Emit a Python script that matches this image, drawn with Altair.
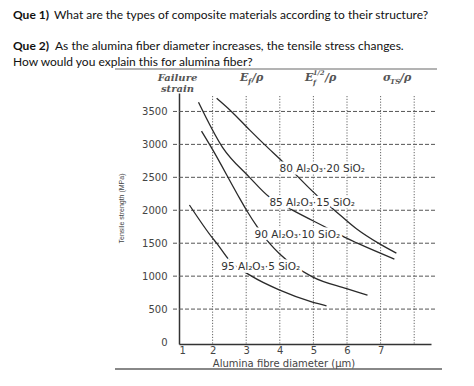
import altair as alt
import pandas as pd

# ---- values ----
diam_80 = [2.12, 2.56, 3.10, 3.54, 4.08, 4.38, 5.18, 5.54, 6.28, 6.97, 7.47]
ts_80 = [3700, 3500, 3220, 3000, 2740, 2590, 2190, 2040, 1720, 1490, 1350]
diam_85 = [1.58, 2.29, 3.10, 3.69, 4.35, 5.54, 5.99, 6.31, 7.41]
ts_85 = [3640, 2960, 2500, 2200, 2010, 1697, 1576, 1500, 1258]
diam_90 = [1.67, 2.00, 2.74, 3.01, 3.34, 3.69, 3.99, 4.97, 5.99, 6.61]
ts_90 = [3200, 2920, 2240, 2000, 1740, 1500, 1340, 990, 810, 710]
diam_95 = [1.31, 2.00, 2.12, 2.50, 3.16, 4.00, 4.97, 5.39]
ts_95 = [2080, 1576, 1500, 1240, 1000, 788, 606, 550]

compositions = ["80 Al₂O₃·20 SiO₂", "85 Al₂O₃·15 SiO₂", "90 Al₂O₃·10 SiO₂", "95 Al₂O₃·5 SiO₂"]
label_diam = [3.99, 3.69, 3.25, 2.26]
label_ts = [2621, 2114, 1621, 1136]

x_ticks = [1, 2, 3, 4, 5, 6, 7]
y_ticks = [0, 500, 1000, 1500, 2000, 2500, 3000, 3500]
y_grid = [500, 1000, 1500, 2000, 2500, 3000, 3500]
x_grid = [2, 3, 4, 5, 6, 7, 8]

# ---- tables ----
rows = []
for name, xs_, ys_ in zip(compositions, [diam_80, diam_85, diam_90, diam_95], [ts_80, ts_85, ts_90, ts_95]):
    for i, (a, b) in enumerate(zip(xs_, ys_)):
        rows.append({"comp": name, "d": a, "s": b, "i": i})
curves = pd.DataFrame(rows)
labels = pd.DataFrame({"comp": compositions, "d": label_diam, "s": label_ts})

W, H = 252, 251
xs = alt.Scale(domain=[1, 8.5], nice=False, zero=False)
ys = alt.Scale(domain=[-30, 3780], nice=False, zero=False)

x_axis = alt.Axis(values=x_ticks, title=None, grid=False, ticks=False,
                  labelPadding=1, domainColor="#333", domainWidth=1.5,
                  labelOverlap=False, format="d")
y_axis = alt.Axis(values=y_ticks, grid=False, ticks=False,
                  labelPadding=12, domainColor="#333", domainWidth=1.5,
                  labelOverlap=False, format="d",
                  title="Tensile strength (MPa)", titleFont="Liberation Sans",
                  titleFontSize=7, titleFontWeight="normal", titleColor="#444",
                  titlePadding=17, titleY=115)


def X(field):
    return alt.X(field, type="quantitative", scale=xs, axis=x_axis)


def Y(field):
    return alt.Y(field, type="quantitative", scale=ys, axis=y_axis)


lines = alt.Chart(curves).mark_line(
    color="#2a2a2a", strokeWidth=1.3, interpolate="monotone"
).encode(x=X("d"), y=Y("s"), detail="comp:N", order="i:Q")

hgrid = alt.Chart(pd.DataFrame({"s": y_grid})).mark_rule(
    color="#555", strokeWidth=1, strokeDash=[4, 2]
).encode(y=Y("s"), x=alt.value(-6), x2=alt.value(256))

vgrid = alt.Chart(pd.DataFrame({"d": x_grid})).mark_rule(
    color="#666", strokeWidth=1, strokeDash=[1.2, 1.6]
).encode(x=X("d"), y=alt.value(3), y2=alt.value(H))

halo = alt.Chart(labels).mark_text(
    align="left", baseline="middle", font="DejaVu Sans", fontSize=10.5,
    stroke="white", strokeWidth=5, fill="white"
).encode(x=X("d"), y=Y("s"), text="comp:N")

ltext = alt.Chart(labels).mark_text(
    align="left", baseline="middle", font="DejaVu Sans", fontSize=10.5, color="#333"
).encode(x=X("d"), y=Y("s"), text="comp:N")


def note(text, x, y, **kw):
    base = dict(align="left", baseline="middle")
    base.update(kw)
    return alt.Chart(pd.DataFrame({"t": [text]})).mark_text(**base).encode(
        x=alt.value(x), y=alt.value(y), text="t:N"
    )


qfont = "Lato"
qs = 12
hdr = dict(font="DejaVu Serif", fontStyle="italic", fontWeight="bold", color="#555")
notes = [
    note("Que 1)", -166, -78, font=qfont, fontSize=qs, fontWeight="bold", color="#111"),
    note("What are the types of composite materials according to their structure?", -125, -78,
         font=qfont, fontSize=qs, color="#111"),
    note("Que 2)", -166, -47, font=qfont, fontSize=qs, fontWeight="bold", color="#111"),
    note("As the alumina fiber diameter increases, the tensile stress changes.", -124, -47,
         font=qfont, fontSize=qs, color="#111"),
    note("How would you explain this for alumina fiber?", -166, -31, font=qfont, fontSize=qs, color="#111"),
    note("Failure", -1.5, -15, align="center", fontSize=10, **hdr),
    note("strain", -1.5, -4.5, align="center", fontSize=10, **hdr),
    note("E", 61, -15, fontSize=11, **hdr),
    note("f", 69, -11, fontSize=7.5, **hdr),
    note("/ρ", 73, -15, fontSize=11, **hdr),
    note("E", 126, -15, fontSize=11, **hdr),
    note("f", 134, -10.5, fontSize=7, **hdr),
    note("1/2", 134, -20.5, fontSize=6.5, **hdr),
    note("/ρ", 146, -15, fontSize=11, **hdr),
    note("σ", 204, -15, fontSize=11, **hdr),
    note("TS", 211, -11, fontSize=7, **hdr),
    note("/ρ", 221, -15, fontSize=11, **hdr),
    note("Alumina fibre diameter (μm)", 105, 271, align="center", font="DejaVu Sans",
         fontSize=10, color="#444"),
]

rule_top = alt.Chart(pd.DataFrame({"k": [0]})).mark_rule(color="#9a9a9a", strokeWidth=1.5).encode(
    x=alt.value(-64), x2=alt.value(258), y=alt.value(-24))
rule_bot = alt.Chart(pd.DataFrame({"k": [0]})).mark_rule(color="#888", strokeWidth=2).encode(
    x=alt.value(-64), x2=alt.value(263), y=alt.value(276))

chart = alt.layer(
    hgrid, vgrid, lines, halo, ltext, rule_top, rule_bot, *notes
).properties(
    width=W, height=H,
    autosize=alt.AutoSizeParams(type="none"),
    padding={"left": 171, "top": 85, "right": 35, "bottom": 34},
).configure_view(stroke=None).configure_axis(
    labelFont="DejaVu Sans", labelFontSize=10, labelColor="#444"
)

chart.save("out.html", embed_options={"renderer": "svg", "actions": False})
